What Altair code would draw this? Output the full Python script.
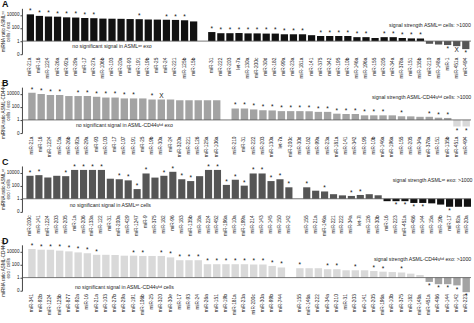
import altair as alt
import pandas as pd

FONT = "Liberation Sans Narrow, Liberation Sans, Arial, sans-serif"

# ---------------- Panel A ----------------
a_left_names = ["miR-21a", "miR-16", "miR-1224", "miR-26a", "miR-92a", "miR-29a", "miR-17", "miR-27a",
                "miR-106b", "miR-103", "miR-20a", "miR-93", "miR-191", "miR-19b", "miR-25", "miR-24",
                "miR-221", "miR-125b", "miR-15b"]
a_left_vals = [12000, 7000, 5600, 5300, 4200, 3900, 3300, 3100, 2700, 2600, 2500, 2300, 2200, 2000,
               1900, 1800, 1700, 1500, 1000]
a_left_marks = ["*", "*", "*", "*", "*", "*", "*", "*", "", "", "", "", "*", "", "", "*", "*", "*", ""]
a_right_names = ["miR-31", "miR-222", "miR-203", "let-7a", "miR-130a", "miR-200c", "miR-30d", "miR-182",
                 "miR-99a", "miR-23a", "miR-181a", "miR-141", "miR-375", "miR-342", "miR-195", "miR-10b",
                 "miR-146a", "miR-196a", "miR-155", "miR-205", "miR-34a", "miR-378a", "miR-151",
                 "miR-135b", "miR-210", "miR-148a", "miR-1", "miR-451a", "miR-494"]
a_right_vals = [24, 16, 16, 17, 15, 15, 14, 14, 11, 11, 11, 8, 6, 6, 6, 6, 4, 4, 3, 4, 4, 3, 2.6, 2.5,
                0.39, 0.3, 0.25, 0.17, 0.06]
a_right_marks = ["*", "*", "*", "*", "*", "*", "*", "*", "*", "*", "*", "", "*", "*", "*", "*", "*", "*",
                 "", "*", "*", "*", "*", "*", "", "", "*", "X", "*"]

# ---------------- Panel B ----------------
b_left_names = ["miR-21a", "miR-16", "miR-1224", "miR-15a", "miR-26b", "miR-92a", "miR-29a", "miR-93",
                "miR-103", "miR-17", "miR-107", "miR-191", "miR-25", "miR-19b", "miR-30a", "miR-24",
                "miR-320a", "miR-221", "miR-126", "miR-125a", "miR-106a"]
b_left_vals = [14000, 9000, 6300, 6300, 4400, 4400, 4400, 3400, 2600, 2600, 1900, 1900, 1900, 1300,
               1300, 1300, 1000, 1000, 1000, 1000, 1000]
b_left_marks = ["*", "*", "*", "*", "", "*", "*", "*", "*", "*", "*", "*", "", "*", "X", "", "", "", "",
                "", ""]
b_right_names = ["miR-210", "miR-31", "miR-222", "miR-203", "miR-130a", "let-7a", "miR-200c", "miR-30d",
                 "miR-182", "miR-99a", "miR-23a", "miR-181a", "miR-141", "miR-342", "miR-195", "miR-10b",
                 "miR-146a", "miR-196a", "miR-155", "miR-205", "miR-34a", "miR-378a", "miR-151",
                 "miR-135b", "miR-451a", "miR-494"]
b_right_vals = [55, 55, 40, 30, 28, 22, 22, 22, 21, 17, 17, 9, 8, 8, 5, 5, 5, 5, 3.6, 3.5, 3, 3, 2.2, 2,
                0.1, 0.1]
b_right_marks = ["*", "*", "*", "*", "*", "*", "*", "*", "*", "*", "*", "*", "*", "*", "*", "*", "*", "",
                 "*", "", "", "*", "*", "*", "*", "*"]

# ---------------- Panel C ----------------
c_left_names = ["miR-200c", "miR-141", "miR-1224", "miR-203", "miR-205", "miR-1a", "miR-206", "miR-133a",
                "miR-122", "miR-31", "miR-200a", "miR-429", "miR-1247", "miR-9", "miR-375", "miR-182",
                "miR-96", "miR-183", "miR-135b", "miR-18a", "miR-224", "miR-452", "miR-196a", "miR-10a",
                "miR-199a", "miR-214", "miR-143", "miR-145", "miR-150", "miR-142"]
c_left_vals = [3200, 4000, 1700, 3200, 2800, 25000, 25000, 25000, 25000, 1150, 950, 640, 30, 7200, 1700,
               3200, 13000, 950, 500, 2800, 25000, 25000, 130, 800, 100, 7200, 7200, 500, 950, 56]
c_left_marks = ["*", "*", "", "", "*", "*", "*", "*", "*", "", "*", "*", "*", "*", "", "*", "*", "*", "*",
                "", "*", "*", "*", "*", "*", "*", "*", "*", "*", "*"]
c_right_names = ["miR-155", "miR-21a", "miR-146a", "miR-221", "miR-222", "miR-34a", "let-7i", "miR-126",
                 "miR-30b", "miR-16", "miR-223", "miR-451a", "miR-486", "miR-144", "miR-15a", "miR-19b",
                 "miR-17", "miR-92a", "miR-20a"]
c_right_vals = [56, 17, 13, 5, 3.3, 2.7, 3.8, 5, 3.4, 0.43, 0.43, 0.43, 0.23, 0.23, 0.2, 0.13, 0.06,
                0.06, 0.06]
c_right_marks = ["*", "", "*", "", "", "*", "*", "", "", "", "*", "*", "*", "*", "", "", "*", "", ""]

# ---------------- Panel D ----------------
d_left_names = ["miR-341", "miR-92b", "miR-1224", "miR-125b", "miR-877", "miR-92a", "miR-16", "miR-21a",
                "miR-103", "miR-27b", "miR-29a", "miR-191", "miR-106b", "miR-25", "miR-320", "miR-30e",
                "miR-17", "miR-93", "miR-24", "miR-26a", "miR-151", "miR-19b", "miR-181a", "miR-23a",
                "miR-200c", "miR-30a", "miR-99b", "miR-744"]
d_left_vals = [23000, 18000, 18000, 13000, 10000, 7000, 5000, 3000, 3000, 2800, 2200, 2200, 2000, 2000,
               2000, 1200, 450, 450, 450, 110, 110, 110, 110, 110, 100, 100, 60, 35]
d_left_marks = ["*", "*", "*", "*", "*", "*", "*", "*", "", "", "", "*", "*", "", "*", "*", "*", "*", "*",
                "*", "*", "*", "*", "*", "*", "*", "*", "*"]
d_right_names = ["miR-155", "miR-146a", "miR-222", "miR-34a", "miR-210", "miR-31", "miR-203", "miR-141",
                 "miR-205", "miR-196a", "miR-10b", "miR-375", "miR-182", "miR-148a", "miR-451a",
                 "miR-486", "miR-144", "miR-142", "miR-223"]
d_right_vals = [27, 27, 27, 19, 19, 13, 13, 13, 10, 8, 7, 6, 4, 2.5, 0.22, 0.1, 0.1, 0.065, 0.006]
d_right_marks = ["*", "", "", "*", "*", "", "*", "", "*", "*", "", "*", "", "", "*", "*", "*", "*", "*"]

# ---------------- texts ----------------
letters = ["A", "B", "C", "D"]
ytitles = [["miRNA ratio ASMLʷᵗ", "cells / exo"],
           ["miRNA ratio ASML-CD44vᵏᵈ", "cells / exo"],
           ["miRNA ratio ASMLʷᵗ", "exo / cells"],
           ["miRNA ratio ASML-CD44vᵏᵈ", "exo / cells"]]
notes_left = ["no significant signal in ASMLʷᵗ exo",
              "no significant signal in ASML-CD44vᵏᵈ exo",
              "no significant signal in ASMLʷᵗ cells",
              "no significant signal in ASML-CD44vᵏᵈ cells"]
notes_right = ["signal strength ASMLʷᵗ cells: >1000",
               "signal strength ASML-CD44vᵏᵈ cells: >1000",
               "signal strength ASMLʷᵗ exo: >1000",
               "signal strength ASML-CD44vᵏᵈ exo: >1000"]


def make_panel(ln, lv, lm, rn, rv, rm, pos_col, neg_col, letter, ytitle, nleft, nleft_idx, nleft_y,
               nright, nright_y, pad_outer, align):
    df = pd.DataFrame({"name": ln + rn, "value": lv + rv, "mark": lm + rm})
    domain = ln + [" "] + rn
    xscale = alt.Scale(domain=domain, paddingInner=0.2, paddingOuter=pad_outer, align=align)
    yscale = alt.Scale(type="log", domain=[0.01, 100000])
    xax = alt.Axis(title=None, labelAngle=-90, labelFontSize=4.8, labelFont=FONT,
                   labelPadding=3, domain=False, ticks=False, labelColor="#222", labelLimit=80)
    yax = alt.Axis(values=[0.01, 1, 100, 10000],
                   labelExpr="datum.value < 0.1 ? '0' : format(datum.value, 'd')",
                   labelFontSize=4.6, labelFont=FONT, labelColor="#222", tickSize=2,
                   labelPadding=1, domainColor="#444", tickColor="#444", grid=False,
                   title=ytitle, titleFontSize=4.6, titleFont=FONT,
                   titleFontWeight="normal", titleX=-21, titleAngle=270,
                   titleBaseline="top", titleLineHeight=5, titleColor="#222")

    bars = alt.Chart(df).mark_bar().encode(
        x=alt.X("name:N", scale=xscale, axis=xax),
        y=alt.Y("value:Q", scale=yscale, axis=yax),
        y2=alt.datum(1),
        color=alt.condition("datum.value >= 1", alt.value(pos_col), alt.value(neg_col)),
    )
    rule = alt.Chart(pd.DataFrame({"v": [1]})).mark_rule(color="#555", strokeWidth=0.8).encode(
        y=alt.datum(1))
    stars = alt.Chart(df).transform_filter("datum.mark != ''").transform_calculate(
        value="datum.value >= 1 ? datum.value * 3 : datum.value / 4.5"
    ).mark_text(fontSize=6.5, font=FONT, color="#111", baseline="middle").encode(
        x=alt.X("name:N", scale=xscale, axis=xax),
        y=alt.Y("value:Q", scale=yscale, axis=yax),
        text="mark:N")
    nl = alt.Chart(pd.DataFrame({"t": [nleft]})).mark_text(
        fontSize=5.2, font=FONT, color="#222", align="center", baseline="middle").encode(
        x=alt.datum(ln[nleft_idx]), y=alt.datum(nleft_y), text="t:N")
    nr = alt.Chart(pd.DataFrame({"t": [nright]})).mark_text(
        fontSize=5.2, font=FONT, color="#222", align="right", baseline="middle", dx=5).encode(
        x=alt.datum(rn[-1]), y=alt.datum(nright_y), text="t:N")
    let = alt.Chart(pd.DataFrame({"t": [letter]})).mark_text(
        fontSize=9, font="Liberation Sans, Arial", fontWeight="bold", color="#111", align="left",
        baseline="top").encode(x=alt.value(-20), y=alt.value(-8), text="t:N")
    return alt.layer(bars, stars, rule, nl, nr, let).properties(width=450, height=46)


pA = make_panel(a_left_names, a_left_vals, a_left_marks, a_right_names, a_right_vals, a_right_marks,
                "#111111", "#555555", letters[0], ytitles[0], notes_left[0], 9, 0.17,
                notes_right[0], 290, 0.35, 0.75)
pB = make_panel(b_left_names, b_left_vals, b_left_marks, b_right_names, b_right_vals, b_right_marks,
                "#a3a3a3", "#d9d9d9", letters[1], ytitles[1], notes_left[1], 10, 0.17,
                notes_right[1], 3000, 0.4, 0.85)
pC = make_panel(c_left_names, c_left_vals, c_left_marks, c_right_names, c_right_vals, c_right_marks,
                "#555555", "#111111", letters[2], ytitles[2], notes_left[2], 9, 0.1,
                notes_right[2], 700, 0.25, 1.0)
pD = make_panel(d_left_names, d_left_vals, d_left_marks, d_right_names, d_right_vals, d_right_marks,
                "#d9d9d9", "#a3a3a3", letters[3], ytitles[3], notes_left[3], 10, 0.04,
                notes_right[3], 800, 0.4, 0.85)

chart = alt.vconcat(pA, pB, pC, pD, spacing=33, bounds="flush").resolve_scale(
    x="independent", y="independent"
).properties(padding={"left": 1, "top": 0, "right": 1, "bottom": 0}).configure_view(stroke=None)

chart.save("out.html", embed_options={"renderer": "svg", "actions": False})
